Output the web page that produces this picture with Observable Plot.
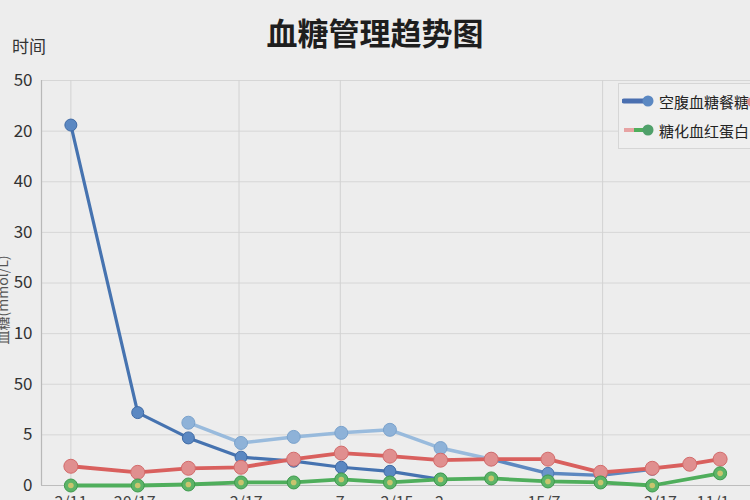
<!DOCTYPE html>
<html>
<head>
<meta charset="utf-8">
<script src="https://cdn.jsdelivr.net/npm/d3@7"></script>
<script src="https://cdn.jsdelivr.net/npm/@observablehq/plot@0.6"></script>
<style>
  html, body { margin: 0; padding: 0; background: #ededed; }
  body { width: 750px; height: 500px; overflow: hidden; font-family: "Noto Sans CJK SC", "Noto Sans", sans-serif; }
  #wrap { position: relative; width: 750px; height: 500px; }
  #chart { position: absolute; left: 0; top: 0; }
  .abs { position: absolute; white-space: nowrap; color: #222; }
  #title { left: 0; width: 750px; top: 12px; text-align: center; font-size: 31px; font-weight: bold; color: #1e1e1e; line-height: 40px; }
  #xname { left: 12px; top: 33px; font-size: 17px; color: #333; }
  #yname { left: -42px; top: 290px; font-size: 14px; color: #555; transform: rotate(-90deg); transform-origin: center; }
  #legend { left: 618px; top: 83px; width: 140px; height: 64px; border: 1px solid #d6d6d6; background: #efefef; }
  .row { position: absolute; left: 3px; height: 22px; display: flex; align-items: center; font-size: 15px; color: #222; }
  .row svg { margin-right: 5px; }
</style>
</head>
<body>
<div id="wrap">
  <div id="chart"></div>
  <div class="abs" id="title">血糖管理趋势图</div>
  <div class="abs" id="xname">时间</div>
  <div class="abs" id="yname">血糖(mmol/L)</div>
  <div class="abs" id="legend"></div>
</div>
<script>
// ---- data ----
const days        = [2.9, 9.5, 14.5, 19.7, 24.9, 29.6, 34.4, 39.4, 44.4, 50.0, 55.2, 60.3, 64.0, 67.0];
const fastingDark = [35.6, 7.2, 4.7, 2.8, 2.4, 1.8, 1.4, 0.6];                 // days[0..7]
const fastingLightDays = [14.5, 19.7, 24.9, 29.6, 34.4, 39.4, 44.4];
const fastingLight     = [6.2, 4.2, 4.8, 5.2, 5.5, 3.7, 2.6];
const fastingTailDays  = [44.4, 50.0, 55.2, 60.3];
const fastingTail      = [2.6, 1.2, 1.0, 1.6];
const postMeal    = [1.9, 1.3, 1.7, 1.8, 2.6, 3.2, 2.9, 2.5, 2.6, 2.6, 1.3, 1.7, 2.1, 2.6];
const hba1cDays   = [2.9, 9.5, 14.5, 19.7, 24.9, 29.6, 34.4, 39.4, 44.4, 50.0, 55.2, 60.3, 67.0];
const hba1c       = [0.0, 0.0, 0.1, 0.3, 0.3, 0.6, 0.3, 0.6, 0.7, 0.4, 0.3, 0.0, 1.2];

const yTickValues = [0, 5, 10, 15, 20, 25, 30, 35, 40];
const yTickLabels = ["0", "5", "50", "10", "50", "30", "40", "20", "50"];
const xTickValues = [2.9, 9.2, 20.2, 29.5, 35.1, 39.3, 49.6, 61.1, 66.3];
const xTickLabels = ["2/11", "20/17", "2/17", "7", "2/15", "2", "15/7", "2/17", "11/1"];
const xGridDays   = [2.9, 19.5, 29.5, 55.4];

const seriesNames = ["空腹血糖餐糖", "糖化血红蛋白"];

// ---- build tables ----
const darkRows  = fastingDark.map((v, i) => ({x: days[i], y: v}));
const lightRows = fastingLight.map((v, i) => ({x: fastingLightDays[i], y: v}));
const tailRows  = fastingTail.map((v, i) => ({x: fastingTailDays[i], y: v}));
const redRows   = postMeal.map((v, i) => ({x: days[i], y: v}));
const greenRows = hba1c.map((v, i) => ({x: hba1cDays[i], y: v}));

const dark = "#4673b0", light = "#8fb5da", red = "#d9605e", green = "#4fae5c";

const chart = Plot.plot({
  width: 750,
  height: 500,
  marginLeft: 41,
  marginRight: 0,
  marginTop: 80,
  marginBottom: 15,
  style: { background: "transparent", fontFamily: "'Noto Sans CJK SC', 'Noto Sans', sans-serif", fontSize: "17px", color: "#333" },
  x: { domain: [0, 70], axis: null },
  y: { domain: [0, 40], axis: null },
  marks: [
    Plot.ruleY(yTickValues, { stroke: "#d6d6d6", strokeWidth: 1 }),
    Plot.ruleX(xGridDays, { stroke: "#d2d2d2", strokeWidth: 1 }),
    Plot.ruleX([0], { stroke: "#b8b8b8", strokeWidth: 1.2 }),
    Plot.ruleY([0], { stroke: "#bdbdbd", strokeWidth: 1.2 }),
    Plot.axisY(yTickValues, { tickSize: 0, tickPadding: 9, tickFormat: (d, i) => yTickLabels[i], fontSize: 17, fill: "#333", label: null }),
    Plot.axisX(xTickValues, { tickSize: 0, tickPadding: 11, tickFormat: (d, i) => xTickLabels[i], fontSize: 16, fill: "#444", label: null }),
    // light (faded) fasting series
    Plot.line(lightRows, { x: "x", y: "y", stroke: light, strokeWidth: 3.5, strokeOpacity: 0.9 }),
    Plot.dot(lightRows, { x: "x", y: "y", r: 6.5, fill: "#8eb2d8", stroke: "#7aa2cc", strokeWidth: 1 }),
    // dark fasting series
    Plot.line(darkRows, { x: "x", y: "y", stroke: dark, strokeWidth: 3.2 }),
    Plot.line(tailRows, { x: "x", y: "y", stroke: "#5d88c0", strokeWidth: 3.5 }),
    Plot.dot(darkRows, { x: "x", y: "y", r: 6, fill: "#5b88c2", stroke: "#3f6aa5", strokeWidth: 1 }),
    Plot.dot(tailRows, { x: "x", y: "y", r: 6, fill: "#6a94c9", stroke: "#4d79b2", strokeWidth: 1 }),
    // post-meal (red)
    Plot.line(redRows, { x: "x", y: "y", stroke: red, strokeWidth: 3.8 }),
    Plot.dot(redRows, { x: "x", y: "y", r: 7, fill: "#e08f8f", stroke: "#d36b6b", strokeWidth: 1 }),
    // HbA1c (green)
    Plot.line(greenRows, { x: "x", y: "y", stroke: green, strokeWidth: 3.8 }),
    Plot.dot(greenRows, { x: "x", y: "y", r: 6.5, fill: "#5cb468", stroke: "#3d9a4c", strokeWidth: 1 }),
    Plot.dot(greenRows, { x: "x", y: "y", r: 2.8, fill: "#c9c46e" })
  ]
});
document.getElementById("chart").appendChild(chart);

// ---- legend ----
const legend = document.getElementById("legend");
const sw1 = `<svg width="32" height="14"><line x1="2" y1="7" x2="26" y2="7" stroke="#4a6fb0" stroke-width="5" stroke-linecap="round"/><circle cx="26" cy="7" r="5.5" fill="#5b88c2"/></svg>`;
const sw2 = `<svg width="32" height="14"><line x1="2" y1="7" x2="14" y2="7" stroke="#e7a3a3" stroke-width="4"/><line x1="12" y1="7" x2="26" y2="7" stroke="#4fae5c" stroke-width="4"/><circle cx="26" cy="7" r="5.5" fill="#4fa06a"/></svg>`;
legend.innerHTML =
  `<div class="row" style="top:6px">${sw1}<span>${seriesNames[0]}</span></div>` +
  `<div class="row" style="top:35px">${sw2}<span>${seriesNames[1]}</span></div>` +
  `<svg style="position:absolute;left:126px;top:12px" width="12" height="12"><circle cx="7" cy="6" r="5" fill="#e08f8f"/></svg>`;
</script>
</body>
</html>
